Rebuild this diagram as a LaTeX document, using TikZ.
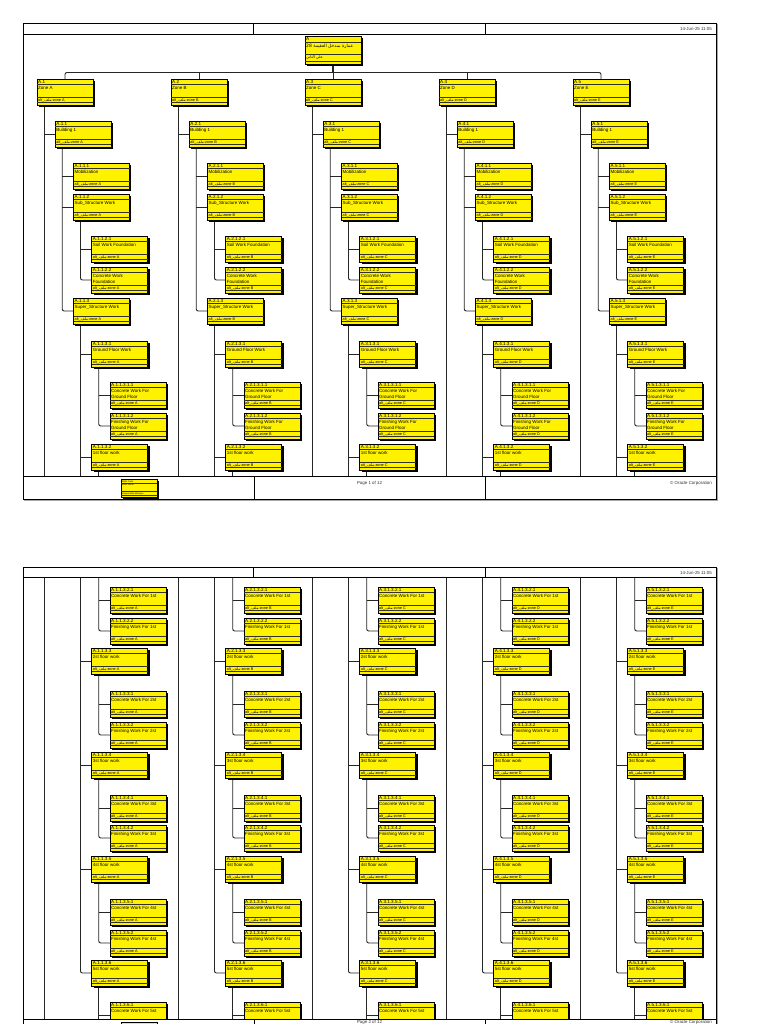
\documentclass[tikz,border=0pt]{standalone}
\usepackage{fontspec}
\setmainfont{Liberation Sans}
\newfontfamily\arabicfont[Script=Arabic]{DejaVu Sans}
\TeXXeTstate=1
\usetikzlibrary{shadows,calc}
\pgfdeclarelayer{bg0}
\pgfdeclarelayer{background}
\pgfsetlayers{bg0,background,main}
\tikzset{
 wbsbox/.style={rectangle, draw=black, line width=0.7pt, fill=yellow, minimum width=56pt, minimum height=26pt, inner sep=0pt, outer sep=0pt, anchor=north west, drop shadow={shadow xshift=1.8pt, shadow yshift=-1.8pt, fill=black, opacity=1}},
 rootbox/.style={wbsbox, minimum height=28pt},
 legbox/.style={wbsbox, minimum width=36pt, minimum height=17.5pt, line width=0.5pt},
 rowline/.style={draw=black!80, line width=0.4pt},
 codetxt/.style={anchor=north west, inner sep=0pt, font=\fontsize{4.6}{5.5}\selectfont},
 nametxt/.style={anchor=north west, inner sep=0pt, align=left, font=\fontsize{4.5}{6}\selectfont},
 aliastxt/.style={anchor=north west, inner sep=0pt, font=\fontsize{3.8}{4.5}\selectfont},
 legtxt/.style={anchor=north west, inner sep=0pt, font=\fontsize{2.2}{2.5}\selectfont},
 conn/.style={draw=black!85, line width=0.9pt},
 lastconn/.style={conn, rounded corners=2pt},
 frame/.style={draw=black, line width=0.8pt},
 framesh/.style={draw=black!35, line width=1.4pt},
 hdrtxt/.style={inner sep=0pt, font=\fontsize{4.4}{5}\selectfont, text=black!80},
}
\newcommand{\wbsnode}[6]{%
  \node[wbsbox] (#1) at (#2,#3) {};
  \draw[rowline] ($(#1.north west)+(0,5.5)$) -- ($(#1.north east)+(0,5.5)$);
  \draw[rowline] ($(#1.north west)+(0,18)$) -- ($(#1.north east)+(0,18)$);
  \draw[rowline] ($(#1.north west)+(0,23.5)$) -- ($(#1.north east)+(0,23.5)$);
  \node[codetxt] (#1-c) at ($(#1.north west)+(1,1.3)$) {#4};
  \node[nametxt] (#1-n) at ($(#1.north west)+(1,7.1)$) {#5};
  \node[aliastxt] (#1-a) at ($(#1.north west)+(1,19.6)$) {#6};
}
\newcommand{\legendbox}[3]{%
  \node[legbox] (#1) at (#2,#3) {};
  \draw[rowline] ($(#1.north west)+(0,3.6)$) -- ($(#1.north east)+(0,3.6)$);
  \draw[rowline] ($(#1.north west)+(0,12)$) -- ($(#1.north east)+(0,12)$);
  \draw[rowline] ($(#1.north west)+(0,15.6)$) -- ($(#1.north east)+(0,15.6)$);
}
\newcommand{\zalias}[1]{alt\_{\arabicfont\beginR ملف\endR}-zone #1}
\begin{document}
\begin{tikzpicture}[x=1pt,y=-1pt]
\begin{pgfonlayer}{bg0}
\fill[white] (0,0) rectangle (768,1024);
\end{pgfonlayer}
\useasboundingbox (0,0) rectangle (768,1024);
\coordinate (p1foot) at (0,476.5);
\coordinate (p2head) at (0,577);
\coordinate (p2foot) at (0,1019);
\coordinate (busy) at (0,72.5);

% root
\node[rootbox] (root) at (305,36) {};
\draw[rowline] ($(root.north west)+(0,6)$) -- ($(root.north east)+(0,6)$);
\draw[rowline] ($(root.north west)+(0,18)$) -- ($(root.north east)+(0,18)$);
\draw[rowline] ($(root.north west)+(0,25)$) -- ($(root.north east)+(0,25)$);
\node[codetxt] (root-c) at ($(root.north west)+(1,1.5)$) {A};
\node[nametxt] (root-n) at ($(root.north west)+(1,8.2)$) {{\arabicfont\beginR عمارة بمدخل العقيمة \beginL28\endL\endR}};
\node[aliastxt] (root-a) at ($(root.north west)+(1,19.8)$) {{\arabicfont\beginR علي الثاني\endR}};

% page 1 boxes
\foreach \i/\Z in {1/A,2/B,3/C,4/D,5/E}{
  \pgfmathsetmacro{\xa}{37+134*(\i-1)}
  \pgfmathsetmacro{\xb}{55.25+134*(\i-1)}
  \pgfmathsetmacro{\xc}{73.5+134*(\i-1)}
  \pgfmathsetmacro{\xd}{91.75+134*(\i-1)}
  \pgfmathsetmacro{\xe}{110+134*(\i-1)}
  \wbsnode{n\i-z}{\xa}{79}{A.\i}{Zone \Z}{\zalias{\Z}}
  \wbsnode{n\i-b}{\xb}{121}{A.\i.1}{Building 1}{\zalias{\Z}}
  \wbsnode{n\i-m}{\xc}{163}{A.\i.1.1}{Mobilization}{\zalias{\Z}}
  \wbsnode{n\i-s}{\xc}{194}{A.\i.1.2}{Sub\_Structure Work}{\zalias{\Z}}
  \wbsnode{n\i-s1}{\xd}{236}{A.\i.1.2.1}{Soil Work Foundation}{\zalias{\Z}}
  \wbsnode{n\i-s2}{\xd}{267}{A.\i.1.2.2}{Concrete Work\\Foundation}{\zalias{\Z}}
  \wbsnode{n\i-u}{\xc}{298}{A.\i.1.3}{Super\_Structure Work}{\zalias{\Z}}
  \wbsnode{n\i-g}{\xd}{341}{A.\i.1.3.1}{Ground Floor Work}{\zalias{\Z}}
  \wbsnode{n\i-g1}{\xe}{382}{A.\i.1.3.1.1}{Concrete Work For\\Ground Floor}{\zalias{\Z}}
  \wbsnode{n\i-g2}{\xe}{413}{A.\i.1.3.1.2}{Finishing Work For\\Ground Floor}{\zalias{\Z}}
  \wbsnode{n\i-f1}{\xd}{444}{A.\i.1.3.2}{1st floor work}{\zalias{\Z}}
}

% page 2 boxes
\begin{scope}
\clip (0,577) rectangle (768,1019);
\foreach \i/\Z in {1/A,2/B,3/C,4/D,5/E}{
  \pgfmathsetmacro{\xd}{91.75+134*(\i-1)}
  \pgfmathsetmacro{\xe}{110+134*(\i-1)}
  \wbsnode{n\i-f1a}{\xe}{587}{A.\i.1.3.2.1}{Concrete Work For 1st}{\zalias{\Z}}
  \wbsnode{n\i-f1b}{\xe}{618}{A.\i.1.3.2.2}{Finishing Work For 1st}{\zalias{\Z}}
  \wbsnode{n\i-f2}{\xd}{648}{A.\i.1.3.3}{2st floor work}{\zalias{\Z}}
  \wbsnode{n\i-f2a}{\xe}{691}{A.\i.1.3.3.1}{Concrete Work For 2st}{\zalias{\Z}}
  \wbsnode{n\i-f2b}{\xe}{722}{A.\i.1.3.3.2}{Finishing Work For 2st}{\zalias{\Z}}
  \wbsnode{n\i-f3}{\xd}{752}{A.\i.1.3.4}{3st floor work}{\zalias{\Z}}
  \wbsnode{n\i-f3a}{\xe}{795}{A.\i.1.3.4.1}{Concrete Work For 3st}{\zalias{\Z}}
  \wbsnode{n\i-f3b}{\xe}{825}{A.\i.1.3.4.2}{Finishing Work For 3st}{\zalias{\Z}}
  \wbsnode{n\i-f4}{\xd}{856}{A.\i.1.3.5}{4st floor work}{\zalias{\Z}}
  \wbsnode{n\i-f4a}{\xe}{899}{A.\i.1.3.5.1}{Concrete Work For 4st}{\zalias{\Z}}
  \wbsnode{n\i-f4b}{\xe}{930}{A.\i.1.3.5.2}{Finishing Work For 4st}{\zalias{\Z}}
  \wbsnode{n\i-f5}{\xd}{960}{A.\i.1.3.6}{5st floor work}{\zalias{\Z}}
  \wbsnode{n\i-f5a}{\xe}{1002}{A.\i.1.3.6.1}{Concrete Work For 5st}{\zalias{\Z}}
}
\end{scope}

% connectors
\begin{pgfonlayer}{background}
\draw[conn, line width=1.6pt] (root.south) -- (root.south |- busy);
\draw[conn, rounded corners=2pt] (n1-z.north) |- (n5-z.north |- busy) -- (n5-z.north);
\foreach \i in {2,3,4}{
  \draw[conn] (n\i-z.north |- busy) -- (n\i-z.north);
}
\foreach \i in {1,...,5}{
  \coordinate (n\i-zl) at ($(n\i-z.south west)+(7,0)$);
  \coordinate (n\i-bl) at ($(n\i-b.south west)+(7,0)$);
  \coordinate (n\i-sl) at ($(n\i-s.south west)+(7,0)$);
  \coordinate (n\i-ul) at ($(n\i-u.south west)+(7,0)$);
  \coordinate (n\i-gl) at ($(n\i-g.south west)+(7,0)$);
  \coordinate (n\i-f1l) at ($(n\i-f1.south west)+(7,0)$);
  \coordinate (n\i-f2l) at ($(n\i-f2.south west)+(7,0)$);
  \coordinate (n\i-f3l) at ($(n\i-f3.south west)+(7,0)$);
  \coordinate (n\i-f4l) at ($(n\i-f4.south west)+(7,0)$);
  \coordinate (n\i-f5l) at ($(n\i-f5.south west)+(7,0)$);
  % zone
  \draw[conn] (n\i-zl) -- (n\i-zl |- p1foot);
  \draw[conn] (n\i-zl |- n\i-b.west) -- (n\i-b.west);
  \draw[conn] (n\i-zl |- p2head) -- (n\i-zl |- p2foot);
  % building
  \draw[conn] (n\i-bl |- n\i-m.west) -- (n\i-m.west);
  \draw[conn] (n\i-bl |- n\i-s.west) -- (n\i-s.west);
  \draw[lastconn] (n\i-bl) |- (n\i-u.west);
  % sub structure
  \draw[conn] (n\i-sl |- n\i-s1.west) -- (n\i-s1.west);
  \draw[lastconn] (n\i-sl) |- (n\i-s2.west);
  % super structure
  \draw[conn] (n\i-ul) -- (n\i-ul |- p1foot);
  \draw[conn] (n\i-ul |- n\i-g.west) -- (n\i-g.west);
  \draw[conn] (n\i-ul |- n\i-f1.west) -- (n\i-f1.west);
  \draw[conn] (n\i-ul |- n\i-f2.west) -- (n\i-f2.west);
  \draw[conn] (n\i-ul |- n\i-f3.west) -- (n\i-f3.west);
  \draw[conn] (n\i-ul |- n\i-f4.west) -- (n\i-f4.west);
  \draw[lastconn] (n\i-ul |- p2head) |- (n\i-f5.west);
  % ground floor
  \draw[conn] (n\i-gl |- n\i-g1.west) -- (n\i-g1.west);
  \draw[lastconn] (n\i-gl) |- (n\i-g2.west);
  % 1st
  \draw[conn] (n\i-f1l) -- (n\i-f1l |- p1foot);
  \draw[conn] (n\i-f1l |- n\i-f1a.west) -- (n\i-f1a.west);
  \draw[lastconn] (n\i-f1l |- p2head) |- (n\i-f1b.west);
  % 2st
  \draw[conn] (n\i-f2l |- n\i-f2a.west) -- (n\i-f2a.west);
  \draw[lastconn] (n\i-f2l) |- (n\i-f2b.west);
  % 3st
  \draw[conn] (n\i-f3l |- n\i-f3a.west) -- (n\i-f3a.west);
  \draw[lastconn] (n\i-f3l) |- (n\i-f3b.west);
  % 4st
  \draw[conn] (n\i-f4l |- n\i-f4a.west) -- (n\i-f4a.west);
  \draw[lastconn] (n\i-f4l) |- (n\i-f4b.west);
  % 5st
  \draw[conn] (n\i-f5l) -- (n\i-f5l |- p2foot);
  \draw[conn] (n\i-f5l |- n\i-f5a.west) -- (n\i-f5a.west);
}
\end{pgfonlayer}

% page 1 frame
\draw[framesh] (717.6,24) -- (717.6,500.2) -- (24,500.2);
\draw[frame] (23,23) rectangle (716.5,499);
\draw[frame] (23,34.5) -- (716.5,34.5);
\draw[frame] (23,476.5) -- (716.5,476.5);
\draw[frame] (253,23) -- (253,34.5);
\draw[frame] (485,23) -- (485,34.5);
\draw[frame] (254,476.5) -- (254,499);
\draw[frame] (485,476.5) -- (485,499);
\node[hdrtxt, anchor=east] (p1date) at (712,29) {14-Jun-25 11:05};
\node[hdrtxt] (p1page) at (369.5,483) {Page 1 of 12};
\node[hdrtxt, anchor=east] (p1corp) at (712,483) {© Oracle Corporation};
\legendbox{leg1}{121}{479.5}
\node[legtxt] (leg1-c) at ($(leg1.north west)+(1,0.8)$) {WBS Code};
\node[legtxt] (leg1-n) at ($(leg1.north west)+(1,4.4)$) {WBS Name};
\node[legtxt] (leg1-a) at ($(leg1.north west)+(1,12.8)$) {Responsible Manager};

% page 2 frame
\draw[framesh] (717.6,568) -- (717.6,1044);
\draw[frame] (23,567) rectangle (716.5,1043);
\draw[frame] (23,577) -- (716.5,577);
\draw[frame] (23,1019) -- (716.5,1019);
\draw[frame] (253,567) -- (253,577);
\draw[frame] (485,567) -- (485,577);
\draw[frame] (254,1019) -- (254,1043);
\draw[frame] (485,1019) -- (485,1043);
\node[hdrtxt, anchor=east] (p2date) at (712,572.5) {14-Jun-25 11:05};
\node[hdrtxt] (p2page) at (369.5,1021.9) {Page 2 of 12};
\node[hdrtxt, anchor=east] (p2corp) at (712,1021.9) {© Oracle Corporation};
\legendbox{leg2}{121}{1022.5}
\end{tikzpicture}
\end{document}
